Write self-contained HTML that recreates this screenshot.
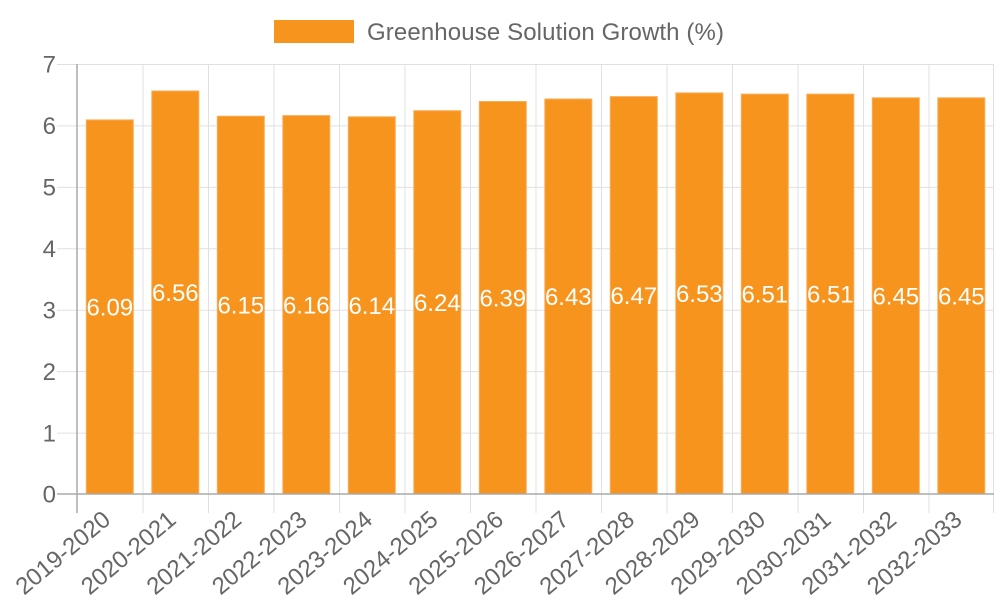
<!DOCTYPE html>
<html>
<head>
<meta charset="utf-8">
<style>
html,body{margin:0;padding:0;background:#fff;}
svg{display:block;}
text{font-family:"Liberation Sans",Arial,sans-serif;}
</style>
</head>
<body>
<svg width="1000" height="600" viewBox="0 0 1000 600" xmlns="http://www.w3.org/2000/svg">
  <!-- legend -->
  <rect x="274" y="20" width="80" height="23" fill="#f7941e"/>
  <text x="367" y="40" font-size="24" fill="#666" textLength="357" lengthAdjust="spacing">Greenhouse Solution Growth (%)</text>

  <!-- horizontal grid lines -->
  <g stroke="#e0e0e0" stroke-width="1">
    <line x1="57" y1="64.5" x2="994" y2="64.5"/>
    <line x1="57" y1="125.9" x2="994" y2="125.9"/>
    <line x1="57" y1="187.4" x2="994" y2="187.4"/>
    <line x1="57" y1="248.8" x2="994" y2="248.8"/>
    <line x1="57" y1="310.2" x2="994" y2="310.2"/>
    <line x1="57" y1="371.6" x2="994" y2="371.6"/>
    <line x1="57" y1="433.1" x2="994" y2="433.1"/>
  </g>
  <!-- vertical grid lines -->
  <g stroke="#e0e0e0" stroke-width="1">
    <line x1="143" y1="64" x2="143" y2="513"/>
    <line x1="208.5" y1="64" x2="208.5" y2="513"/>
    <line x1="274" y1="64" x2="274" y2="513"/>
    <line x1="339.5" y1="64" x2="339.5" y2="513"/>
    <line x1="405" y1="64" x2="405" y2="513"/>
    <line x1="470.5" y1="64" x2="470.5" y2="513"/>
    <line x1="536" y1="64" x2="536" y2="513"/>
    <line x1="601.5" y1="64" x2="601.5" y2="513"/>
    <line x1="667" y1="64" x2="667" y2="513"/>
    <line x1="732.5" y1="64" x2="732.5" y2="513"/>
    <line x1="798" y1="64" x2="798" y2="513"/>
    <line x1="863.5" y1="64" x2="863.5" y2="513"/>
    <line x1="929" y1="64" x2="929" y2="513"/>
    <line x1="993.5" y1="64" x2="993.5" y2="513"/>
  </g>

  <!-- bars -->
  <g fill="#f7941e" stroke="#f9ad58" stroke-width="1">
    <rect x="86.3" y="119.9" width="47" height="374.1"/>
    <rect x="151.8" y="91.0" width="47" height="403.0"/>
    <rect x="217.3" y="116.2" width="47" height="377.8"/>
    <rect x="282.8" y="115.6" width="47" height="378.4"/>
    <rect x="348.3" y="116.8" width="47" height="377.2"/>
    <rect x="413.8" y="110.7" width="47" height="383.3"/>
    <rect x="479.3" y="101.5" width="47" height="392.5"/>
    <rect x="544.8" y="99.0" width="47" height="395.0"/>
    <rect x="610.3" y="96.6" width="47" height="397.4"/>
    <rect x="675.8" y="92.9" width="47" height="401.1"/>
    <rect x="741.3" y="94.1" width="47" height="399.9"/>
    <rect x="806.8" y="94.1" width="47" height="399.9"/>
    <rect x="872.3" y="97.8" width="47" height="396.2"/>
    <rect x="937.8" y="97.8" width="47" height="396.2"/>
  </g>

  <!-- axes -->
  <line x1="77" y1="64" x2="77" y2="513" stroke="#aaa" stroke-width="1.5"/>
  <line x1="57" y1="494" x2="994" y2="494" stroke="#aaa" stroke-width="1.5"/>

  <!-- y tick labels -->
  <g font-size="24" fill="#666" text-anchor="end">
    <text x="56" y="72.5">7</text>
    <text x="56" y="134">6</text>
    <text x="56" y="195.5">5</text>
    <text x="56" y="257">4</text>
    <text x="56" y="318.5">3</text>
    <text x="56" y="380">2</text>
    <text x="56" y="441.5">1</text>
    <text x="56" y="502.5">0</text>
  </g>

  <!-- data labels -->
  <g font-size="24" fill="#fff" text-anchor="middle">
    <text x="109.8" y="315.5">6.09</text>
    <text x="175.3" y="301">6.56</text>
    <text x="240.8" y="313.5">6.15</text>
    <text x="306.3" y="313.3">6.16</text>
    <text x="371.8" y="314">6.14</text>
    <text x="437.3" y="311">6.24</text>
    <text x="502.8" y="306.3">6.39</text>
    <text x="568.3" y="305">6.43</text>
    <text x="633.8" y="303.8">6.47</text>
    <text x="699.3" y="302">6.53</text>
    <text x="764.8" y="302.6">6.51</text>
    <text x="830.3" y="302.6">6.51</text>
    <text x="895.8" y="304.5">6.45</text>
    <text x="961.3" y="304.5">6.45</text>
  </g>

  <!-- x tick labels -->
  <g font-size="24" fill="#666" text-anchor="end">
    <text transform="translate(112,522) rotate(-40)">2019-2020</text>
    <text transform="translate(177.5,522) rotate(-40)">2020-2021</text>
    <text transform="translate(243,522) rotate(-40)">2021-2022</text>
    <text transform="translate(308.5,522) rotate(-40)">2022-2023</text>
    <text transform="translate(374,522) rotate(-40)">2023-2024</text>
    <text transform="translate(439.5,522) rotate(-40)">2024-2025</text>
    <text transform="translate(505,522) rotate(-40)">2025-2026</text>
    <text transform="translate(570.5,522) rotate(-40)">2026-2027</text>
    <text transform="translate(636,522) rotate(-40)">2027-2028</text>
    <text transform="translate(701.5,522) rotate(-40)">2028-2029</text>
    <text transform="translate(767,522) rotate(-40)">2029-2030</text>
    <text transform="translate(832.5,522) rotate(-40)">2030-2031</text>
    <text transform="translate(898,522) rotate(-40)">2031-2032</text>
    <text transform="translate(963.5,522) rotate(-40)">2032-2033</text>
  </g>
</svg>
</body>
</html>
